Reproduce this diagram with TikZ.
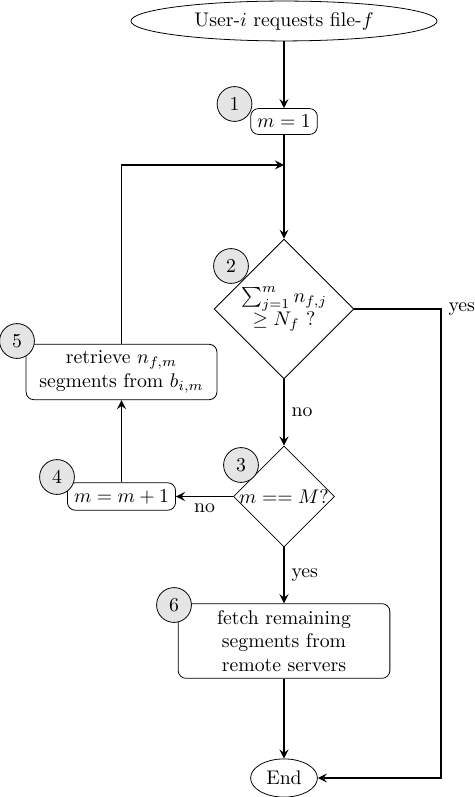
\documentclass[tikz,border=0pt]{standalone}
\usetikzlibrary{shapes.geometric,arrows}

\begin{document}
\begin{tikzpicture}[>=stealth, x=0.0178cm, y=-0.0178cm,
    term/.style={draw, ellipse, inner sep=1pt},
    proc/.style={draw, rounded corners=4pt, align=center},
    decide/.style={draw, diamond, aspect=1, inner sep=-1pt, align=center},
    num/.style={draw, circle, fill=gray!20, minimum size=0.62cm, inner sep=0pt},
    flow/.style={->, line width=1pt}]
    \pgfmathsetmacro{\cx}{284}
    \pgfmathsetmacro{\lx}{121.5}
    \useasboundingbox (0,0) rectangle (474,797);
    % steps
    \node[term, minimum width=5.45cm, minimum height=0.71cm] (start) at (\cx,21) {User-$i$ requests file-$f$};
    \node[proc] (init) at (\cx,121.5) {$m=1$};
    \node[decide, minimum size=2.49cm] (enough) at (\cx,309) {$\sum_{j=1}^{m} n_{f,j}$\\$\geq N_f$ ?};
    \node[decide, minimum size=1.8cm] (last) at (\cx,496.5) {$m==M$?};
    \node[proc] (incr) at (\lx,496.5) {$m=m+1$};
    \node[proc, minimum width=3.4cm] (fetch) at (\lx,372) {retrieve $n_{f,m}$\\segments from $b_{i,m}$};
    \node[proc, minimum width=3.77cm] (remote) at (\cx,641) {fetch remaining\\segments from\\remote servers};
    \node[term, minimum width=1.19cm, minimum height=0.68cm] (stop) at (\cx,778) {End};
	% step numbers
    \node[num] (n1) at (234.5,104) {1};
    \node[num] (n2) at (231,266) {2};
    \node[num] (n3) at (241,465) {3};
    \node[num] (n4) at (57,477) {4};
    \node[num] (n5) at (17,341) {5};
    \node[num] (n6) at (174,605) {6};
    \coordinate (join) at (\cx,165);
    \coordinate (bend) at (441,309);
    % connectors
    \draw[flow] (start) -- (init);
    \draw[flow] (init) -- (enough);
    \draw[flow] (enough) -- node[right] {no} (last);
    \draw[flow] (last) -- node[below] {no} (incr);
    \draw[flow] (incr) -- (fetch);
    \draw[flow] (fetch.north) |- (join);
    \draw[flow] (last) -- node[right] {yes} (remote);
    \draw[flow] (remote) -- (stop);
    \draw[flow] (enough.east) -- (bend) node[right] {yes} |- (stop.east);
\end{tikzpicture}
\end{document}
